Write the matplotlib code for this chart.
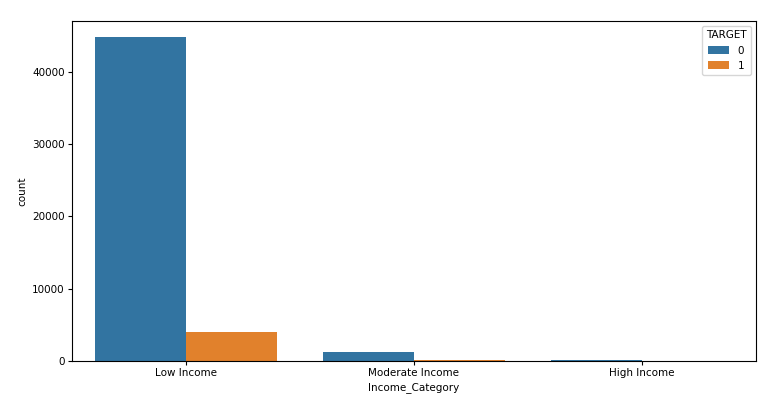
import matplotlib.pyplot as plt
import pandas as pd
import seaborn as sns

categories = ['Low Income', 'Moderate Income', 'High Income']
target_0 = [44750, 1200, 140]
target_1 = [4000, 150, 15]

df = pd.DataFrame({
    'Income_Category': categories * 2,
    'TARGET': ['0'] * 3 + ['1'] * 3,
    'count': target_0 + target_1,
})

fs = 7.5
fig = plt.figure(figsize=(7.69, 4.04), dpi=100)
ax = fig.add_axes([72 / 769, 43 / 404, 684 / 769, 340 / 404])
sns.barplot(data=df, x='Income_Category', y='count', hue='TARGET',
            palette=['#1f77b4', '#ff7f0e'], saturation=0.75, ax=ax)
ax.set_xlabel('Income_Category', fontsize=fs, labelpad=2.5)
ax.set_ylabel('count', fontsize=fs, labelpad=3)
ax.tick_params(labelsize=fs, length=2.8, pad=2.5)
ax.legend(title='TARGET', fontsize=fs, title_fontsize=fs, loc='upper right')
fig.savefig('out.png', dpi=100)
